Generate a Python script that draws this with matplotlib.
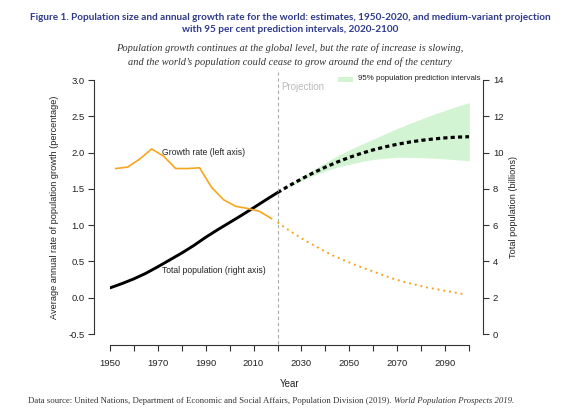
import matplotlib
matplotlib.use("Agg")
import matplotlib.pyplot as plt
from matplotlib.patches import Rectangle
import numpy as np

# ---- data ----
growth_years = [1952.5, 1957.5, 1962.5, 1967.5, 1972.5, 1977.5, 1982.5, 1987.5,
                1992.5, 1997.5, 2002.5, 2007.5, 2012.5, 2017.5]
growth_rate = [1.78, 1.80, 1.91, 2.05, 1.95, 1.78, 1.78, 1.79,
               1.52, 1.35, 1.26, 1.23, 1.19, 1.09]
growth_proj_years = [2020, 2022.5, 2027.5, 2032.5, 2037.5, 2042.5, 2047.5, 2052.5,
                     2057.5, 2062.5, 2067.5, 2072.5, 2077.5, 2082.5, 2087.5,
                     2092.5, 2097.5]
growth_proj = [1.04, 0.98, 0.87, 0.77, 0.68, 0.59, 0.52, 0.45,
               0.39, 0.33, 0.27, 0.22, 0.18, 0.14, 0.11, 0.08, 0.05]

pop_years = [1950, 1955, 1960, 1965, 1970, 1975, 1980, 1985, 1990, 1995,
             2000, 2005, 2010, 2015, 2020]
pop = [2.536, 2.773, 3.035, 3.340, 3.700, 4.079, 4.458, 4.871, 5.327, 5.744,
       6.143, 6.542, 6.957, 7.380, 7.795]
proj_years = [2020, 2025, 2030, 2035, 2040, 2045, 2050, 2055, 2060, 2065,
              2070, 2075, 2080, 2085, 2090, 2095, 2100]
pop_proj = [7.795, 8.184, 8.548, 8.888, 9.199, 9.482, 9.735, 9.958, 10.152,
            10.318, 10.459, 10.577, 10.674, 10.750, 10.810, 10.852, 10.875]
pi_low = [7.795, 8.15, 8.45, 8.74, 8.98, 9.20, 9.36, 9.50, 9.62, 9.69,
          9.74, 9.74, 9.72, 9.69, 9.65, 9.60, 9.55]
pi_high = [7.795, 8.22, 8.65, 9.06, 9.45, 9.83, 10.15, 10.45, 10.75, 11.04,
           11.33, 11.60, 11.85, 12.10, 12.33, 12.55, 12.75]

left_ticks = [-0.5, 0.0, 0.5, 1.0, 1.5, 2.0, 2.5, 3.0]
right_ticks = [0, 2, 4, 6, 8, 10, 12, 14]
x_ticks = list(range(1950, 2101, 10))
x_labels = ["1950", "", "1970", "", "1990", "", "2010", "", "2030", "",
            "2050", "", "2070", "", "2090", ""]

ORANGE = "#F8A51E"
GREEN = "#D2F4D2"
BLUE = "#2E3A8C"
AXC = "#333333"

W, H = 580, 420
fig = plt.figure(figsize=(5.8, 4.2), dpi=100)
sans = ["Liberation Sans", "DejaVu Sans"]
serif = ["Liberation Serif", "DejaVu Serif"]

def fx(px):
    return px / W

def fy(py):
    return 1 - py / H

left, right, top, bottom = 109.7, 469.3, 80, 334
ax = fig.add_axes([fx(left), fy(bottom), fx(right - left), (bottom - top) / H])
ax2 = ax.twinx()

ax.set_xlim(1950, 2100)
ax.set_ylim(-0.5, 3.0)
ax2.set_ylim(0, 14)

ax2.fill_between(proj_years, pi_low, pi_high, color=GREEN, lw=0, zorder=1)
ax2.plot(pop_years, pop, color="black", lw=2.1, solid_capstyle="butt", zorder=3)
ax2.plot(proj_years, pop_proj, color="black", lw=2.3, ls=(0, (1.3, 1.0)), zorder=3)
ax.plot(growth_years, growth_rate, color=ORANGE, lw=1.2, zorder=3)
ax.plot(growth_proj_years, growth_proj, color=ORANGE, lw=1.4, ls=(0, (1.0, 2.0)), zorder=3)
ax.set_zorder(ax2.get_zorder() + 1)
ax.patch.set_visible(False)

ax.axvline(2020, ymin=-0.04, ymax=1.03, color="#AAAAAA", lw=0.8,
           ls=(0, (3, 2.5)), clip_on=False, zorder=0)

for a in (ax, ax2):
    a.spines["top"].set_visible(False)
ax.spines["right"].set_visible(False)
ax2.spines["left"].set_visible(False)
ax2.spines["bottom"].set_visible(False)

ax.spines["left"].set_position(("outward", 11))
ax.spines["bottom"].set_position(("outward", 8))
ax2.spines["right"].set_position(("outward", 10))
for sp in (ax.spines["left"], ax.spines["bottom"], ax2.spines["right"]):
    sp.set_color(AXC)
    sp.set_linewidth(0.8)
ax.spines["left"].set_bounds(-0.5, 3.0)
ax.spines["bottom"].set_bounds(1950, 2100)
ax2.spines["right"].set_bounds(0, 14)

ax.set_yticks(left_ticks)
ax.set_yticklabels([f"{v:.1f}" for v in left_ticks])
ax2.set_yticks(right_ticks)
ax2.set_yticklabels([str(v) for v in right_ticks])
ax.set_xticks(x_ticks)
ax.set_xticklabels(x_labels)

ax.tick_params(axis="both", length=4, width=0.8, color=AXC, labelsize=6.8,
               labelcolor="#222222", pad=3)
ax.tick_params(axis="x", pad=6)
ax2.tick_params(axis="y", length=4, width=0.8, color=AXC, labelsize=6.8,
                labelcolor="#222222", pad=3)
for lab in ax.get_xticklabels() + ax.get_yticklabels() + ax2.get_yticklabels():
    lab.set_family(sans)

ax.set_xlabel("Year", fontsize=7, family=sans, color="#222222", labelpad=8)
ax.set_ylabel("Average annual rate of population growth (percentage)",
              fontsize=6.6, family=sans, color="#222222", labelpad=6.5)
ax2.set_ylabel("Total population (billions)", fontsize=6.6, family=sans,
               color="#222222", labelpad=4)

ax.text(1972, 2.0, "Growth rate (left axis)", fontsize=6.2, family=sans,
        color="#222222", va="center", ha="left")
ax.text(1972, 0.37, "Total population (right axis)", fontsize=6.2, family=sans,
        color="#222222", va="center", ha="left")
ax.text(2021.5, 2.91, "Projection", fontsize=7, family=sans, color="#BBBBBB",
        va="center", ha="left")

# legend
fig.patches.append(Rectangle((fx(338), fy(81.5)), 15 / W, 5 / H,
                             transform=fig.transFigure, facecolor=GREEN,
                             edgecolor="none"))
fig.text(fx(358), fy(79), "95% population prediction intervals", fontsize=5.7,
         family=sans, color="#222222", va="center", ha="left")

# titles
tfam = ["Lato", "DejaVu Sans"]
fig.text(0.5, fy(17), "Figure 1. Population size and annual growth rate for the world: estimates, 1950-2020, and medium-variant projection",
         fontsize=7.2, family=tfam, weight="bold", color=BLUE,
         ha="center", va="center")
fig.text(0.5, fy(29.5), "with 95 per cent prediction intervals, 2020-2100",
         fontsize=7.2, family=tfam, weight="bold", color=BLUE,
         ha="center", va="center")
fig.text(0.5, fy(48), "Population growth continues at the global level, but the rate of increase is slowing,",
         fontsize=7.5, family=serif, style="italic", color="#333333",
         ha="center", va="center")
fig.text(0.5, fy(62), "and the world\u2019s population could cease to grow around the end of the century",
         fontsize=7.5, family=serif, style="italic", color="#333333",
         ha="center", va="center")

t1 = fig.text(fx(28), fy(401), "Data source: United Nations, Department of Economic and Social Affairs, Population Division (2019). ",
              fontsize=6.35, family=serif, color="#333333", ha="left", va="center")
fig.canvas.draw()
bb = t1.get_window_extent()
fig.text(bb.x1 / fig.bbox.width, fy(401), "World Population Prospects 2019.",
         fontsize=6.35, family=serif, style="italic", color="#333333",
         ha="left", va="center")

fig.savefig("out.png", dpi=100, facecolor="white")
